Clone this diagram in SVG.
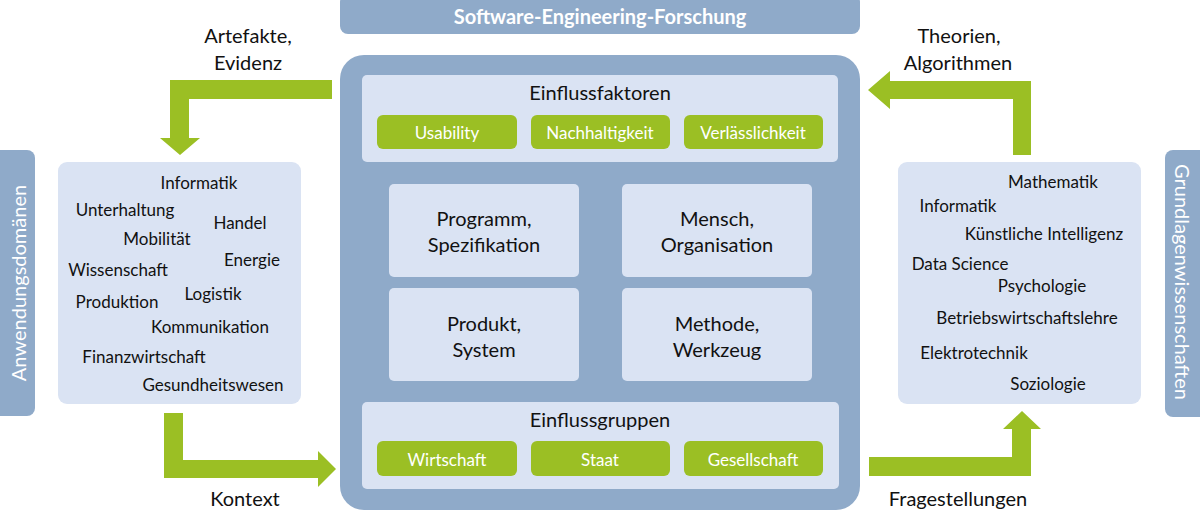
<svg xmlns="http://www.w3.org/2000/svg" width="1200" height="512" viewBox="0 0 1200 512">
<style>
text{font-family:Lato,"Open Sans","Liberation Sans",sans-serif;fill:#111;text-anchor:middle;dominant-baseline:central}
.dark{fill:#8FAAC9}
.light{fill:#DAE3F3}
.green{fill:#9BBF24}
.s{font-size:17px}
.t{font-size:20px}
.p{font-size:17px;fill:#fff}
.arr{fill:#9BBF24}
</style>
<rect width="1200" height="512" fill="#fff"/>
<g id="title">
<rect class="dark" x="340" y="-6" width="520" height="40" rx="8"/>
<text x="600" y="16" style="font-size:20px;font-weight:bold;fill:#fff">Software-Engineering-Forschung</text>
</g>
<g id="anwendungsdomaenen-label">
<rect class="dark" x="-8" y="150" width="43" height="266" rx="8"/>
<text transform="translate(18,283) rotate(-90)" style="font-size:20px;fill:#fff">Anwendungsdomänen</text>
</g>
<g id="grundlagen-label">
<rect class="dark" x="1165" y="150" width="43" height="267" rx="8"/>
<text transform="translate(1183,282) rotate(90)" style="font-size:20px;fill:#fff">Grundlagenwissenschaften</text>
</g>
<g id="main">
<rect class="dark" x="340" y="55" width="520" height="455" rx="24"/>
</g>
<g id="einflussfaktoren">
<rect class="light" x="362" y="75" width="476" height="87" rx="5"/>
<text class="t" x="600" y="92">Einflussfaktoren</text>
<rect class="green" x="377" y="115" width="140" height="34" rx="6"/>
<text class="p" x="447" y="132">Usability</text>
<rect class="green" x="531" y="115" width="139" height="34" rx="6"/>
<text class="p" x="600" y="132">Nachhaltigkeit</text>
<rect class="green" x="684" y="115" width="139" height="34" rx="6"/>
<text class="p" x="753" y="132">Verlässlichkeit</text>
</g>
<g id="programm">
<rect class="light" x="389" y="184" width="190" height="93" rx="5"/>
<text class="t" x="484" y="218">Programm,</text>
<text class="t" x="484" y="244">Spezifikation</text>
</g>
<g id="mensch">
<rect class="light" x="622" y="184" width="190" height="93" rx="5"/>
<text class="t" x="717" y="218">Mensch,</text>
<text class="t" x="717" y="244">Organisation</text>
</g>
<g id="produkt">
<rect class="light" x="389" y="288" width="190" height="93" rx="5"/>
<text class="t" x="484" y="323">Produkt,</text>
<text class="t" x="484" y="349">System</text>
</g>
<g id="methode">
<rect class="light" x="622" y="288" width="190" height="93" rx="5"/>
<text class="t" x="717" y="323">Methode,</text>
<text class="t" x="717" y="349">Werkzeug</text>
</g>
<g id="einflussgruppen">
<rect class="light" x="362" y="402" width="477" height="87" rx="5"/>
<text class="t" x="600" y="419">Einflussgruppen</text>
<rect class="green" x="377" y="441" width="140" height="35" rx="6"/>
<text class="p" x="447" y="459">Wirtschaft</text>
<rect class="green" x="531" y="441" width="139" height="35" rx="6"/>
<text class="p" x="600" y="459">Staat</text>
<rect class="green" x="684" y="441" width="139" height="35" rx="6"/>
<text class="p" x="753" y="459">Gesellschaft</text>
</g>
<g id="anwendungsdomaenen">
<rect class="light" x="58" y="162" width="243" height="242" rx="9"/>
<text class="s" x="199" y="182">Informatik</text>
<text class="s" x="125" y="209">Unterhaltung</text>
<text class="s" x="240" y="222">Handel</text>
<text class="s" x="157" y="238">Mobilität</text>
<text class="s" x="252" y="259">Energie</text>
<text class="s" x="118" y="269">Wissenschaft</text>
<text class="s" x="213" y="293">Logistik</text>
<text class="s" x="117" y="301">Produktion</text>
<text class="s" x="210" y="326">Kommunikation</text>
<text class="s" x="144" y="356">Finanzwirtschaft</text>
<text class="s" x="213" y="384">Gesundheitswesen</text>
</g>
<g id="grundlagenwissenschaften">
<rect class="light" x="898" y="162" width="243" height="242" rx="9"/>
<text class="s" x="1053" y="181">Mathematik</text>
<text class="s" x="958" y="205">Informatik</text>
<text class="s" x="1044" y="233">Künstliche Intelligenz</text>
<text class="s" x="960" y="263">Data Science</text>
<text class="s" x="1042" y="285">Psychologie</text>
<text class="s" x="1027" y="317">Betriebswirtschaftslehre</text>
<text class="s" x="974" y="352">Elektrotechnik</text>
<text class="s" x="1048" y="383">Soziologie</text>
</g>
<g id="connectors">
<polygon class="arr" points="332,80 170,80 170,138 160,138 180,155 200,138 189,138 189,99 332,99"/>
<polygon class="arr" points="1031,81 890,81 890,71 868,90 890,109 890,99 1013,99 1013,155 1031,155"/>
<polygon class="arr" points="164,413 183,413 183,460 318,460 318,451 336,469 318,487 318,478 164,478"/>
<polygon class="arr" points="869,457 1012,457 1012,429 1003,429 1022,411 1041,429 1031,429 1031,476 869,476"/>
<text class="t" x="248" y="35">Artefakte,</text>
<text class="t" x="248" y="62">Evidenz</text>
<text class="t" x="959" y="35">Theorien,</text>
<text class="t" x="958" y="62">Algorithmen</text>
<text class="t" x="245" y="498">Kontext</text>
<text class="t" x="958" y="498">Fragestellungen</text>
</g>
</svg>
